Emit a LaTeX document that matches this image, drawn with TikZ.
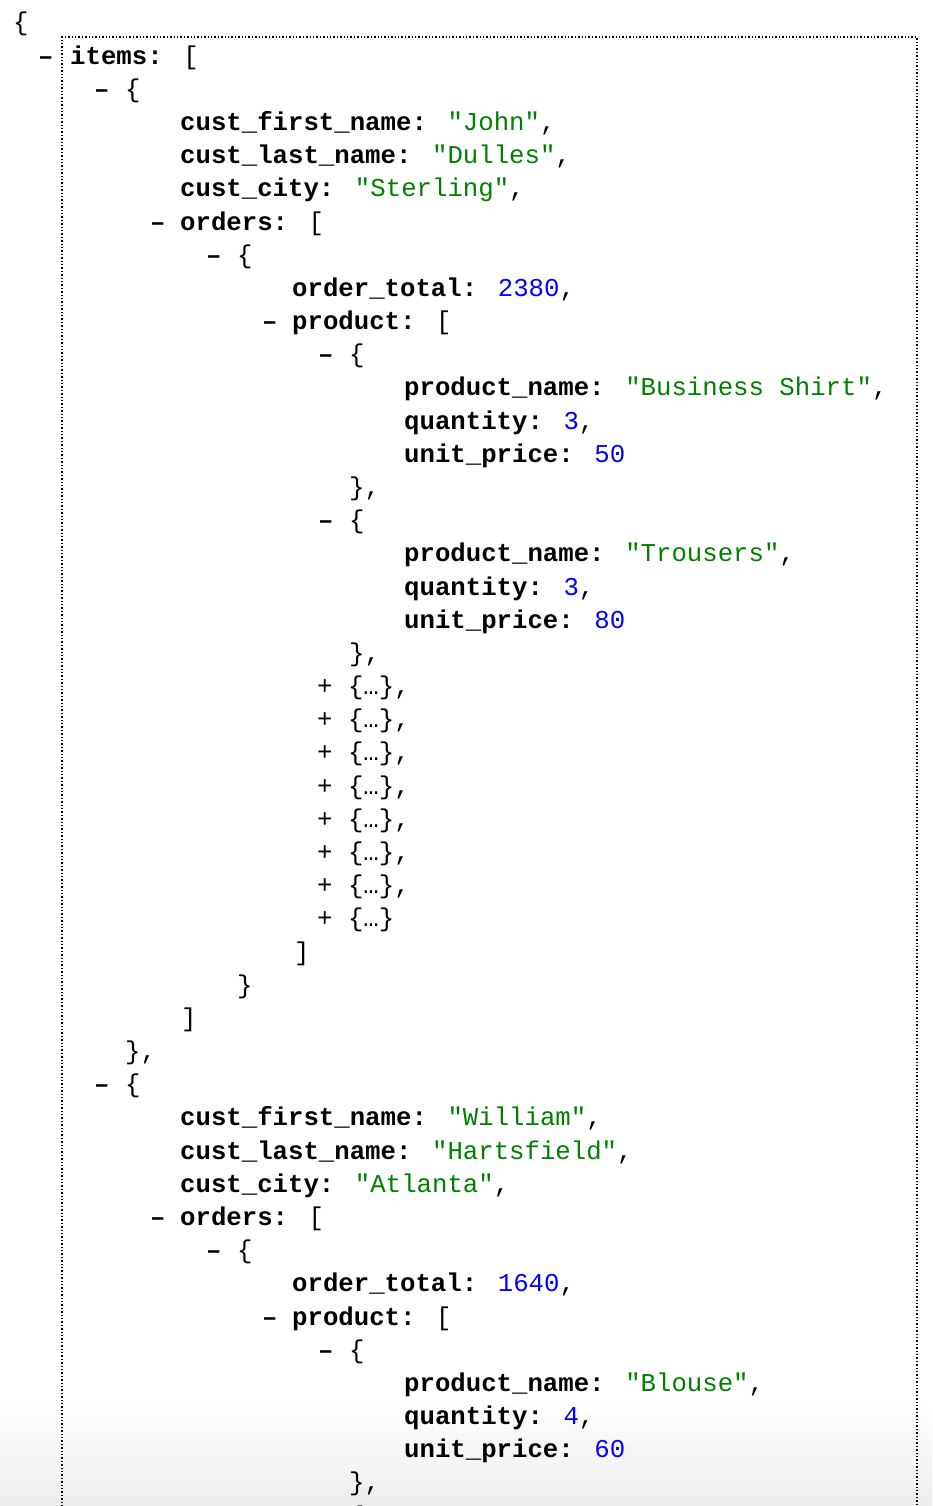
\documentclass[tikz,border=0pt]{standalone}
\usepackage{fontspec}
\newfontfamily\mono{Liberation Mono}
\definecolor{strg}{RGB}{0,128,0}
\definecolor{numb}{RGB}{0,0,255}
\newcommand\K[1]{\textbf{#1}}
\newcommand\Sv[1]{\textcolor{strg}{"#1"}}
\newcommand\Nv[1]{\textcolor{numb}{#1}}
\newcommand\Ln[3]{\node[txt] (t#1-#2) at (#2,{-(22+33.18*#1+9)}) {#3};}
\tikzset{txt/.style={anchor=base west,inner sep=0pt,font=\mono\fontsize{25.7}{30}\selectfont}}
\begin{document}
\begin{tikzpicture}[x=1pt,y=1pt]
\useasboundingbox (0,0) rectangle (932,-1506);
\fill[white] (0,0) rectangle (932,-1506);
\shade[top color=white,bottom color=black!7] (0,-1400) rectangle (932,-1506);
\draw[dotted,line width=1.4pt] (62,-1520) -- (62,-37) -- (917,-37) -- (917,-1520);
\Ln{0}{13}{\{}
\Ln{1}{38}{\textbf{–}}\Ln{1}{70}{\K{items:} [}
\Ln{2}{94}{\textbf{–} \{}
\Ln{3}{180}{\K{cust\_first\_name:} \Sv{John},}
\Ln{4}{180}{\K{cust\_last\_name:} \Sv{Dulles},}
\Ln{5}{180}{\K{cust\_city:} \Sv{Sterling},}
\Ln{6}{150}{\textbf{–}}\Ln{6}{180}{\K{orders:} [}
\Ln{7}{206}{\textbf{–} \{}
\Ln{8}{292}{\K{order\_total:} \Nv{2380},}
\Ln{9}{262}{\textbf{–}}\Ln{9}{292}{\K{product:} [}
\Ln{10}{318}{\textbf{–} \{}
\Ln{11}{404}{\K{product\_name:} \Sv{Business Shirt},}
\Ln{12}{404}{\K{quantity:} \Nv{3},}
\Ln{13}{404}{\K{unit\_price:} \Nv{50}}
\Ln{14}{349}{\},}
\Ln{15}{318}{\textbf{–} \{}
\Ln{16}{404}{\K{product\_name:} \Sv{Trousers},}
\Ln{17}{404}{\K{quantity:} \Nv{3},}
\Ln{18}{404}{\K{unit\_price:} \Nv{80}}
\Ln{19}{349}{\},}
\Ln{20}{317}{+ \{…\},}
\Ln{21}{317}{+ \{…\},}
\Ln{22}{317}{+ \{…\},}
\Ln{23}{317}{+ \{…\},}
\Ln{24}{317}{+ \{…\},}
\Ln{25}{317}{+ \{…\},}
\Ln{26}{317}{+ \{…\},}
\Ln{27}{317}{+ \{…\}}
\Ln{28}{294}{]}
\Ln{29}{237}{\}}
\Ln{30}{181}{]}
\Ln{31}{125}{\},}
\Ln{32}{94}{\textbf{–} \{}
\Ln{33}{180}{\K{cust\_first\_name:} \Sv{William},}
\Ln{34}{180}{\K{cust\_last\_name:} \Sv{Hartsfield},}
\Ln{35}{180}{\K{cust\_city:} \Sv{Atlanta},}
\Ln{36}{150}{\textbf{–}}\Ln{36}{180}{\K{orders:} [}
\Ln{37}{206}{\textbf{–} \{}
\Ln{38}{292}{\K{order\_total:} \Nv{1640},}
\Ln{39}{262}{\textbf{–}}\Ln{39}{292}{\K{product:} [}
\Ln{40}{318}{\textbf{–} \{}
\Ln{41}{404}{\K{product\_name:} \Sv{Blouse},}
\Ln{42}{404}{\K{quantity:} \Nv{4},}
\Ln{43}{404}{\K{unit\_price:} \Nv{60}}
\Ln{44}{349}{\},}
\Ln{45}{318}{\textbf{–} \{}
\end{tikzpicture}
\end{document}
